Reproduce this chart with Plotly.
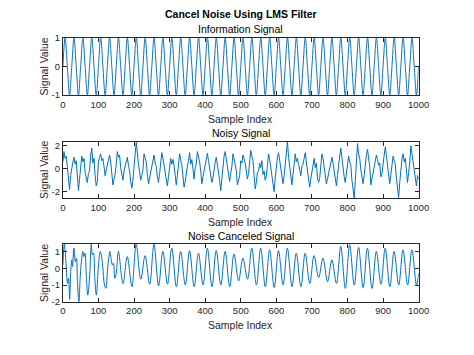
import numpy as np
import plotly.graph_objects as go

FONT = "Liberation Sans, Arial, Helvetica, sans-serif"
LINE = "#0072BD"
AX = "#262626"

# ---------------- data ----------------
x_tick_vals = list(range(0, 1001, 100))

# Information signal, read at quarter-period steps (6.25 samples)
info_step = 6.25
info_values = [
    0, 1, 0, -1, 0, 1, 0, -1,
    0, 1, 0, -1, 0, 1, 0, -1,
    0, 1, 0, -1, 0, 1, 0, -1,
    0, 1, 0, -1, 0, 1, 0, -1,
    0, 1, 0, -1, 0, 1, 0, -1,
    0, 1, 0, -1, 0, 1, 0, -1,
    0, 1, 0, -1, 0, 1, 0, -1,
    0, 1, 0, -1, 0, 1, 0, -1,
    0, 1, 0, -1, 0, 1, 0, -1,
    0, 1, 0, -1, 0, 1, 0, -1,
    0, 1, 0, -1, 0, 1, 0, -1,
    0, 1, 0, -1, 0, 1, 0, -1,
    0, 1, 0, -1, 0, 1, 0, -1,
    0, 1, 0, -1, 0, 1, 0, -1,
    0, 1, 0, -1, 0, 1, 0, -1,
    0, 1, 0, -1, 0, 1, 0, -1,
    0, 1, 0, -1, 0, 1, 0, -1,
    0, 1, 0, -1, 0, 1, 0, -1,
    0, 1, 0, -1, 0, 1, 0, -1,
    0, 1, 0, -1, 0, 1, 0, -1,
    0,
]

# Noisy signal, read at eighth-period steps (3.125 samples)
noisy_step = 3.125
noisy_values = [
    0.6, 1.5, 0.9, 1.1, 0.2, -0.9, -1.8, -0.6,
    0.3, 0.6, 1.0, 0.4, 0.7, -0.8, -1.9, -0.9,
    0.2, 1.1, 0.6, 0.9, -0.3, -0.7, -1.2, -0.4,
    -0.2, 1.2, 1.8, 0.5, 0.9, -0.6, -1.5, -1.1,
    0.6, 1.0, 1.3, 0.7, 0.9, 0.2, -0.6, -0.1,
    0.3, 0.8, 1.2, 0.6, -0.4, -1.4, -0.9, -0.5,
    0.4, 1.5, 1.0, 1.2, 0.1, -0.5, -1.0, -0.2,
    0.2, 0.7, 1.0, 0.3, -0.2, -1.1, -1.7, -1.0,
    0.5, 1.3, 2.3, 0.9, 0.4, -0.3, -1.0, -0.6,
    -0.1, 1.3, 0.8, 0.6, -0.5, -1.3, -0.8, -0.3,
    0.5, 0.9, 1.2, 0.5, 0.2, -0.7, -1.2, -0.4,
    0.3, 1.4, 0.9, 0.2, -0.3, -0.9, -1.5, -0.7,
    0.1, 0.9, 0.4, 0.8, 0.3, -0.4, -1.4, -0.6,
    0.6, 1.3, 0.8, 0.3, -0.6, -1.6, -1.1, -0.2,
    0.2, 0.7, 1.4, 0.4, 0.8, 0.0, -0.9, 0.1,
    0.4, 1.5, 1.1, 0.6, -0.2, -1.3, -0.7, -0.2,
    0.5, 0.8, 1.35, 0.7, -0.1, -0.6, -1.2, -0.8,
    0.1, 0.6, 1.0, 0.4, -0.4, -1.0, -1.9, -0.9,
    0.3, 1.1, 1.5, 0.9, 0.1, -0.7, -1.1, -0.4,
    0.2, 1.3, 0.9, 0.4, -0.2, -1.4, -1.0, -0.6,
    0.7, 0.5, 1.2, 0.9, 0.5, -0.2, -0.9, -0.4,
    0.5, 1.6, 1.1, 0.7, -0.6, -1.75, -1.2, -0.3,
    -0.2, 0.5, 0.1, 0.7, -0.5, -0.2, -1.0, -0.6,
    0.3, 1.3, 0.8, 0.2, -0.7, -1.3, -2.0, -0.8,
    0.2, 1.0, 1.4, 0.6, 0.1, -0.9, -1.3, -0.6,
    0.6, 1.5, 2.36, 1.0, 0.2, -0.8, -1.4, -0.5,
    0.3, 1.3, 0.6, 0.9, 0.4, -0.3, -0.6, 0.2,
    0.4, 0.9, 1.4, 0.6, -0.3, -1.1, -1.6, -0.9,
    -0.3, 0.2, 0.9, 0.1, 0.5, -0.8, -1.2, -0.8,
    0.3, 1.3, 0.9, 0.2, -0.5, -1.3, -0.9, -0.4,
    0.2, 0.6, 1.0, 0.5, -0.3, -1.0, -1.5, -0.6,
    0.5, 1.1, 1.8, 0.8, 0.1, -0.7, -1.2, -0.3,
    0.4, 1.1, 0.6, 0.3, -1.0, -1.7, -2.55, -1.1,
    0.3, 2.2, 1.3, 0.9, -0.1, -0.8, -1.3, -0.6,
    0.4, 1.2, 1.7, 0.8, 0.2, -1.4, -0.9, -0.3,
    0.2, 0.6, 1.2, 0.8, 0.3, 0.5, -0.7, -0.4,
    0.6, 1.2, 1.9, 1.0, 0.0, -0.9, -1.3, -0.5,
    0.3, 1.1, 0.7, 0.4, -0.8, -1.6, -2.5, -1.2,
    0.1, 0.9, 1.3, 0.6, 0.9, -0.4, -1.2, -0.3,
    0.5, 2.0, 1.3, 0.6, -0.4, -1.0, -1.5, -0.6,
    -0.9,
]

# Noise-canceled signal: (sample index, value) read at turning points
clean_index = [
    0, 4, 9, 13, 16, 19, 22, 25, 27, 31, 35, 38, 41, 45, 49, 53, 56, 59, 62, 66,
    70, 73, 76, 80, 83, 86, 90, 94, 98, 101, 105, 108, 112, 117, 121, 125, 129,
    132, 136, 139, 142, 146, 150,
    156, 169, 181, 194, 206, 219, 231, 244, 256, 269,
    281, 294, 306, 319, 331, 344, 356, 369, 381, 394,
    406, 419, 431, 444, 456, 469, 481, 494, 506, 519,
    531, 544, 556, 569, 581, 594, 606, 619, 631, 644,
    656, 669, 681, 694, 706, 719, 731, 744, 756, 769,
    781, 794, 806, 819, 831, 844, 856, 869, 881, 894,
    906, 919, 931, 944, 956, 969, 981, 994, 1000,
]
clean_values = [
    0.2, 1.44, 0.3, -0.9, -0.6, -1.85, -0.2, 0.5, 0.1, 1.2, 0.4, 0.6, -0.8, -2.0, -0.4, 0.6, 1.0, 0.7, 0.9, -0.5,
    -1.6, -1.1, -0.2, 1.44, 0.8, 0.9, -0.7, -1.6, -0.5, 0.4, 1.0, 0.8, 0.1, -1.0, -1.2, -0.2, 0.6,
    1.0, 0.5, 0.2, 0.3, -0.6, -0.3,
    1.0, -0.92, 0.7, -1.1, 1.44, -0.65, 0.75, -0.95, 1.44, -1.05,
    1.0, -0.95, 1.2, -1.1, 1.0, -1.0, 1.05, -1.1, 0.9, -1.0,
    1.2, -1.1, 1.05, -1.0, 1.0, -1.1, 0.85, -0.75, 0.6, -0.65,
    1.2, -1.0, 1.2, -1.1, 1.1, -1.15, 1.05, -1.0, 1.2, -1.1,
    0.9, -1.1, 0.9, -0.9, 0.75, -0.55, 0.6, -0.8, 0.5, -0.9,
    1.3, -1.2, 1.4, -1.0, 1.25, -1.15, 1.2, -1.2, 1.0, -0.95,
    1.2, -1.1, 1.0, -1.0, 1.1, -1.0, 1.1, -1.0, -0.3,
]

info_x = np.arange(len(info_values)) * info_step
noisy_x = np.arange(len(noisy_values)) * noisy_step
n_clean = min(len(clean_index), len(clean_values))

# ---------------- figure ----------------
W, H = 474, 355
X0, X1 = 61.7, 428.3
panels = [  # (top px, bottom px)
    (32.7, 92.0),
    (140.0, 198.3),
    (245.7, 305.3),
]
y_ranges = [[-1, 1], [-2.56, 2.36], [-2.0, 1.44]]
y_ticks = [[-1, 0, 1], [-2, 0, 2], [-2, -1, 0, 1]]
titles = ["Information Signal", "Noisy Signal", "Noise Canceled Signal"]

fig = go.Figure()
fig.add_trace(go.Scatter(x=info_x, y=info_values, mode="lines",
                         line=dict(color=LINE, width=1, shape="spline"),
                         xaxis="x", yaxis="y", hoverinfo="skip"))
fig.add_trace(go.Scatter(x=noisy_x, y=noisy_values, mode="lines",
                         line=dict(color=LINE, width=1),
                         xaxis="x2", yaxis="y2", hoverinfo="skip"))
fig.add_trace(go.Scatter(x=clean_index[:n_clean], y=clean_values[:n_clean], mode="lines",
                         line=dict(color=LINE, width=1, shape="spline"),
                         xaxis="x3", yaxis="y3", hoverinfo="skip"))

tickfont = dict(family=FONT, size=9.5, color=AX)
layout = dict(
    width=W, height=H, autosize=False,
    margin=dict(l=0, r=0, t=0, b=0),
    paper_bgcolor="white", plot_bgcolor="white",
    showlegend=False,
    font=dict(family=FONT, color=AX),
)
annotations = []


def py(px):
    return 1 - px / H


for i, ((top, bot), yr, yt, ttl) in enumerate(zip(panels, y_ranges, y_ticks, titles)):
    sfx = "" if i == 0 else str(i + 1)
    layout["xaxis" + sfx] = dict(
        domain=[X0 / W, X1 / W], anchor="y" + sfx, range=[0, 1000],
        tickvals=x_tick_vals, ticktext=[str(v) for v in x_tick_vals],
        ticks="inside", ticklen=4, tickcolor=AX, tickwidth=1,
        showline=True, linecolor=AX, linewidth=1, mirror="ticks",
        showgrid=False, zeroline=False, tickfont=tickfont, fixedrange=True,
    )
    layout["yaxis" + sfx] = dict(
        domain=[py(bot), py(top)], anchor="x" + sfx, range=yr,
        tickvals=yt, ticktext=[str(v) for v in yt],
        ticks="inside", ticklen=4, tickcolor=AX, tickwidth=1,
        showline=True, linecolor=AX, linewidth=1, mirror="ticks",
        showgrid=False, zeroline=False, tickfont=tickfont, fixedrange=True,
    )
    cx = (X0 + X1) / 2 / W
    annotations.append(dict(text=ttl, x=cx, y=py(top - 8.6), xref="paper", yref="paper",
                            showarrow=False, xanchor="center", yanchor="middle",
                            font=dict(family=FONT, size=10.5, color="black")))
    annotations.append(dict(text="Sample Index", x=cx, y=py(bot + 24.3), xref="paper", yref="paper",
                            showarrow=False, xanchor="center", yanchor="middle",
                            font=dict(family=FONT, size=10.5, color=AX)))
    annotations.append(dict(text="Signal Value", x=42.3 / W, y=py((top + bot) / 2),
                            xref="paper", yref="paper", textangle=-90,
                            showarrow=False, xanchor="center", yanchor="middle",
                            font=dict(family=FONT, size=10.5, color=AX)))

annotations.append(dict(text="<b>Cancel Noise Using LMS Filter</b>", x=(X0 + X1) / 2 / W, y=py(8.5),
                        xref="paper", yref="paper", showarrow=False,
                        xanchor="center", yanchor="middle",
                        font=dict(family=FONT, size=10.5, color="black")))
layout["annotations"] = annotations
fig.update_layout(**layout)

fig.write_html("out.html", config={"displayModeBar": False},
               post_script="document.body.style.margin='0';document.body.style.overflow='hidden';")
